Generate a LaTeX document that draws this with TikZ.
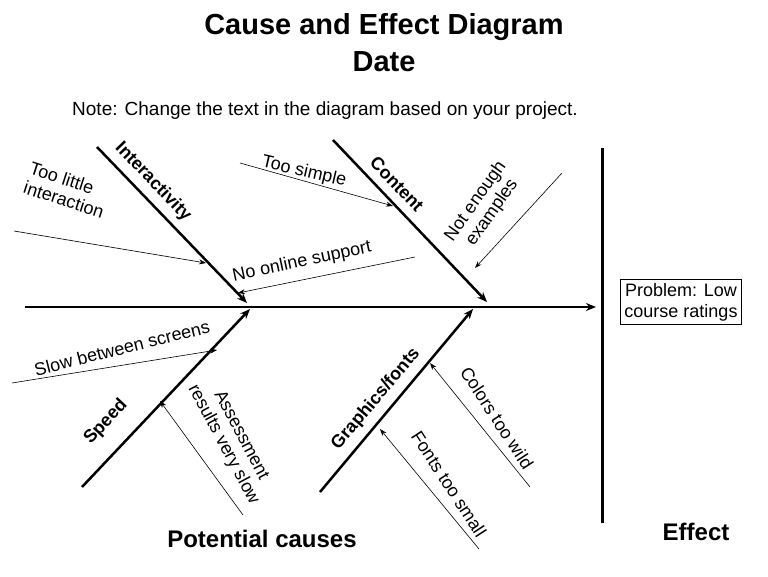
\documentclass[tikz,border=0pt]{standalone}
\usepackage{fontspec}
\setmainfont{Liberation Sans}
\usetikzlibrary{arrows.meta}
\begin{document}
\begin{tikzpicture}[x=1pt,y=-1pt,
  bone/.style={line width=2.5pt,-{Stealth[length=10pt,width=8pt]}},
  twig/.style={line width=0.6pt,-{Stealth[length=7pt,width=5pt]}},
  lbl/.style={font=\fontsize{18}{20}\selectfont,align=center,inner sep=1pt},
  blbl/.style={font=\bfseries\fontsize{18}{20}\selectfont,inner sep=1pt}]
\useasboundingbox (0,0) rectangle (768,576);
\node (t1) at (384,27) {\bfseries\fontsize{29}{32}\selectfont Cause and Effect Diagram};
\node (t2) at (384,62) {\bfseries\fontsize{29}{32}\selectfont Date};
\node (note) at (325,111) {\fontsize{19}{22}\selectfont Note: Change the text in the diagram based on your project.};
\coordinate (s0) at (25,307); \coordinate (s1) at (596,307);
\draw[bone] (s0) -- (s1);
\coordinate (v0) at (602,148); \coordinate (v1) at (602,523);
\draw[line width=3pt] (v0) -- (v1);
\node[draw,line width=0.8pt,align=center,font=\fontsize{18}{21}\selectfont,inner sep=4pt] (prob) at (681,302) {Problem: Low\\course ratings};
\node (eff) at (696,532) {\bfseries\fontsize{24}{27}\selectfont Effect};
\node (pc) at (262,539) {\bfseries\fontsize{24}{27}\selectfont Potential causes};
% bones
\coordinate (i0) at (97,147); \coordinate (i1) at (247,303);
\draw[bone] (i0) -- (i1);
\coordinate (c0) at (333,140); \coordinate (c1) at (487,302);
\draw[bone] (c0) -- (c1);
\coordinate (p0) at (82,487); \coordinate (p1) at (250,309);
\draw[bone] (p0) -- (p1);
\coordinate (g0) at (320,492); \coordinate (g1) at (473,309);
\draw[bone] (g0) -- (g1);
\node[blbl,rotate=-46] (li) at (153,182) {Interactivity};
\node[blbl,rotate=-46] (lc) at (397,184) {Content};
\node[blbl,rotate=47] (lp) at (106,422) {Speed};
\node[blbl,rotate=50] (lg) at (376,399) {Graphics/fonts};
% twigs
\node[lbl,rotate=-18,align=left] (tl) at (67,190) {Too little\\interaction};
\coordinate (a0) at (14,231); \coordinate (a1) at (206,263);
\draw[twig] (a0) -- (a1);
\node[lbl,rotate=12] (no) at (302,262) {No online support};
\coordinate (b0) at (415,257); \coordinate (b1) at (238,293);
\draw[twig] (b0) -- (b1);
\node[lbl,rotate=-13] (ts) at (304,172) {Too simple};
\coordinate (d0) at (240,163); \coordinate (d1) at (393,206);
\draw[twig] (d0) -- (d1);
\node[lbl,rotate=55] (ne) at (484,207) {Not enough\\examples};
\coordinate (e0) at (562,173); \coordinate (e1) at (475,268);
\draw[twig] (e0) -- (e1);
\node[lbl,rotate=14] (sb) at (122,348) {Slow between screens};
\coordinate (f0) at (12,383); \coordinate (f1) at (217,350);
\draw[twig] (f0) -- (f1);
\node[lbl,rotate=-62] (as) at (232,440) {Assessment\\results very slow};
\coordinate (h0) at (243,515); \coordinate (h1) at (160,401);
\draw[twig] (h0) -- (h1);
\node[lbl,rotate=-57] (cw) at (497,418) {Colors too wild};
\coordinate (j0) at (530,487); \coordinate (j1) at (430,363);
\draw[twig] (j0) -- (j1);
\node[lbl,rotate=-57] (fs) at (449,484) {Fonts too small};
\coordinate (k0) at (479,549); \coordinate (k1) at (380,429);
\draw[twig] (k0) -- (k1);
\end{tikzpicture}
\end{document}
